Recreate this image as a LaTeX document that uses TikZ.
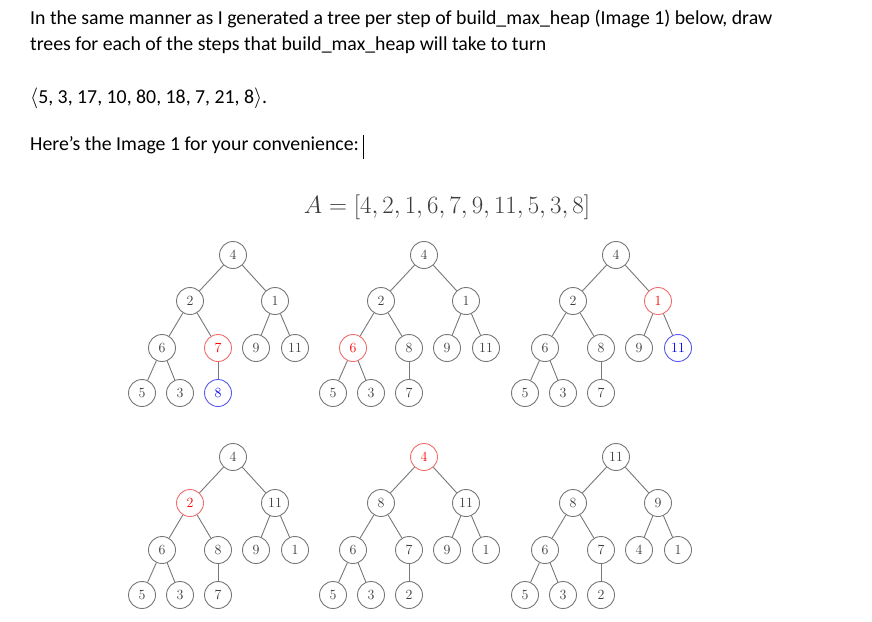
\documentclass[tikz,border=0pt]{standalone}
\usepackage{fontspec}
\newfontfamily\calfont{Carlito}
\definecolor{gc}{RGB}{120,120,120}
\definecolor{tc}{RGB}{60,60,60}
\definecolor{rc}{RGB}{240,110,110}
\definecolor{bc}{RGB}{90,90,235}
\newcommand\posx[1]{\ifcase#1\or 233\or 190\or 275\or 162\or 218\or 256\or 295\or 142\or 180\or 218\fi}
\newcommand\posy[1]{\ifcase#1\or 255\or 301\or 301\or 348\or 348\or 348\or 348\or 393\or 393\or 393\fi}
\newcommand\Tree[4]{%
  \foreach \i/\lab/\col/\tcol in {#4}
    \node[vert,draw=\col,text=\tcol] (#3\i) at (#1+\posx{\i},#2+\posy{\i}) {\lab};
  \foreach \a/\b in {1/2,1/3,2/4,2/5,3/6,3/7,4/8,4/9,5/10}
    \draw[edge] (#3\a) -- (#3\b);}
\begin{document}
\begin{tikzpicture}[x=1pt,y=-1pt,
  vert/.style={circle,line width=0.9pt,minimum size=27pt,inner sep=0pt,font=\fontsize{14}{14}\selectfont},
  edge/.style={gc,line width=0.9pt},
  txt/.style={anchor=base west,inner sep=0pt,font=\calfont\fontsize{19.8}{22}\selectfont}]
\useasboundingbox[fill=white] (0,0) rectangle (872,621);
\node[txt] (l1) at (30,24) {In the same manner as I generated a tree per step of build\_max\_heap (Image 1) below, draw};
\node[txt] (l2) at (30,50) {trees for each of the steps that build\_max\_heap will take to turn};
\node[txt] (l3) at (30,103) {$\langle$5, 3, 17, 10, 80, 18, 7, 21, 8$\rangle$.};
\node[txt] (l4) at (30,150) {Here’s the Image 1 for your convenience:};
\draw[line width=0.8pt] (l4.east)++(4,-10) -- ++(0,24);
\node[text=tc,font=\fontsize{38}{40}\selectfont] (A) at (447,207) {$A=[4,2,1,6,7,9,11,5,3,8]$};
\Tree{0}{0}{a}{1/4/gc/tc,2/2/gc/tc,3/1/gc/tc,4/6/gc/tc,5/7/rc/red,6/9/gc/tc,7/11/gc/tc,8/5/gc/tc,9/3/gc/tc,10/8/bc/blue}
\Tree{191}{0}{b}{1/4/gc/tc,2/2/gc/tc,3/1/gc/tc,4/6/rc/red,5/8/gc/tc,6/9/gc/tc,7/11/gc/tc,8/5/gc/tc,9/3/gc/tc,10/7/gc/tc}
\Tree{383}{0}{c}{1/4/gc/tc,2/2/gc/tc,3/1/rc/red,4/6/gc/tc,5/8/gc/tc,6/9/gc/tc,7/11/bc/blue,8/5/gc/tc,9/3/gc/tc,10/7/gc/tc}
\Tree{0}{202}{d}{1/4/gc/tc,2/2/rc/red,3/11/gc/tc,4/6/gc/tc,5/8/gc/tc,6/9/gc/tc,7/1/gc/tc,8/5/gc/tc,9/3/gc/tc,10/7/gc/tc}
\Tree{191}{202}{e}{1/4/rc/red,2/8/gc/tc,3/11/gc/tc,4/6/gc/tc,5/7/gc/tc,6/9/gc/tc,7/1/gc/tc,8/5/gc/tc,9/3/gc/tc,10/2/gc/tc}
\Tree{383}{202}{f}{1/11/gc/tc,2/8/gc/tc,3/9/gc/tc,4/6/gc/tc,5/7/gc/tc,6/4/gc/tc,7/1/gc/tc,8/5/gc/tc,9/3/gc/tc,10/2/gc/tc}
\end{tikzpicture}
\end{document}
